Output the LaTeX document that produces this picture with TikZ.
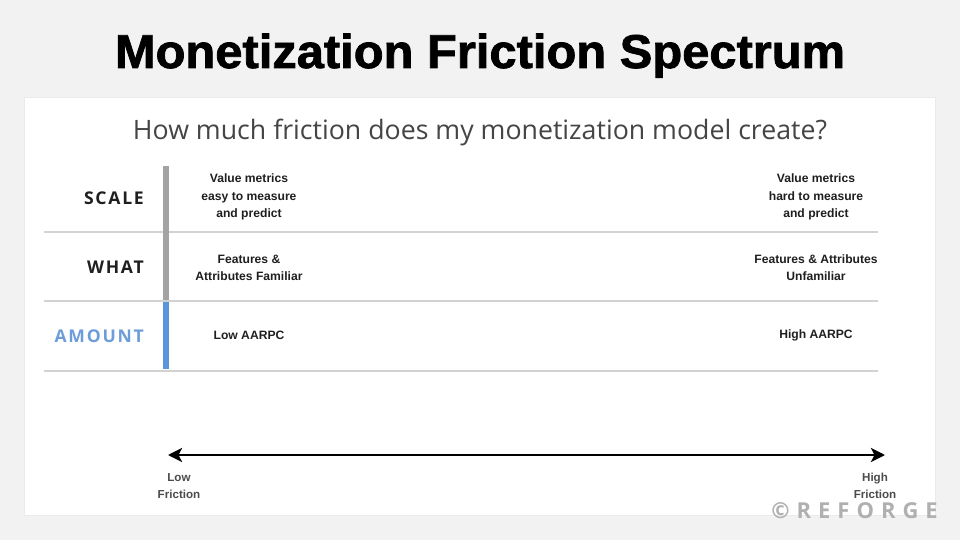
\documentclass[tikz,border=0pt]{standalone}
\usepackage{fontspec}
\usepackage{graphicx}
\usetikzlibrary{arrows.meta}
\setmainfont{Liberation Sans}
\newfontfamily\titlefont[BoldFeatures={FakeBold=1.6}]{Liberation Sans}
\newfontfamily\subfont{Open Sans}
\newfontfamily\rowfont[LetterSpace=10]{Open Sans}
\newfontfamily\markfont[LetterSpace=32]{Open Sans}
\definecolor{pagegray}{HTML}{F2F2F2}
\definecolor{rulegray}{HTML}{D2D2D2}
\definecolor{bargray}{HTML}{A3A3A3}
\definecolor{barblue}{HTML}{5B95DC}
\definecolor{amountblue}{HTML}{6C9DD8}
\definecolor{subgray}{HTML}{454545}
\definecolor{markgray}{HTML}{B0B0B0}
\tikzset{
  rowlabel/.style={anchor=east,font=\rowfont\bfseries\fontsize{10}{12}\selectfont,text=black!88},
  celltext/.style={align=center,font=\bfseries\fontsize{6.9}{9.8}\selectfont,text=black!88},
  endtext/.style={align=center,font=\bfseries\fontsize{6.6}{9.8}\selectfont,text=black!70},
  rowrule/.style={draw=rulegray,line width=1.1pt},
  spectrum/.style={line width=1.4pt,{Stealth[length=8pt,width=8pt,inset=2pt]}-{Stealth[length=8pt,width=8pt,inset=2pt]}}
}
\begin{document}
\begin{tikzpicture}[x=0.02cm,y=-0.02cm]
        \useasboundingbox[fill=pagegray] (0,0) rectangle (960,540);
        %% panel
        \fill[black!8] (24,97) rectangle (936,516);
        \fill[white] (25,98) rectangle (935,515);
        %% title and question
        \node[anchor=base,font=\titlefont\bfseries\fontsize{27}{30}\selectfont] (title) at (480,68)
            {\scalebox{1.03}[1]{Monetization Friction Spectrum}};
        \node[font=\subfont\fontsize{15.2}{18}\selectfont,text=subgray] (question) at (480,132)
            {How much friction does my monetization model create?};
        %% rules between the rows
        \foreach \y/\n in {232/one,301/two,371/three} {
            \coordinate (\n L) at (44,\y);
            \coordinate (\n R) at (878,\y);
            \draw[rowrule] (\n L) -- (\n R);
        }
        %% bars
        \fill[bargray] (163,166) rectangle (169,300);
        \fill[barblue] (163,302) rectangle (169,369);
        %% row labels
        \node[rowlabel] (scale) at (150,198) {SCALE};
        \node[rowlabel] (what) at (150,267) {WHAT};
        \node[rowlabel,text=amountblue] (amount) at (150,336) {AMOUNT};
        %% low and high ends of each row
        \node[celltext] (scaleLow) at (249,197) {Value metrics\\easy to measure\\and predict};
        \node[celltext] (scaleHigh) at (816,197) {Value metrics\\hard to measure\\and predict};
        \node[celltext] (whatLow) at (249,268) {Features \&\\Attributes Familiar};
        \node[celltext] (whatHigh) at (816,268) {Features \& Attributes\\Unfamiliar};
        \node[celltext] (amountLow) at (249,335) {Low AARPC};
        \node[celltext] (amountHigh) at (816,335) {High AARPC};
        %% spectrum arrow
        \coordinate (lowEnd) at (168,455);
        \coordinate (highEnd) at (885,455);
        \draw[spectrum] (lowEnd) -- (highEnd);
        \node[endtext] (lowFriction) at (179,486) {Low\\Friction};
        \node[endtext] (highFriction) at (875,486) {High\\Friction};
        %% watermark
        \node[anchor=east,font=\markfont\bfseries\fontsize{12.5}{14}\selectfont,text=markgray] (mark) at (944,511) {©REFORGE};
    \end{tikzpicture}
\end{document}
